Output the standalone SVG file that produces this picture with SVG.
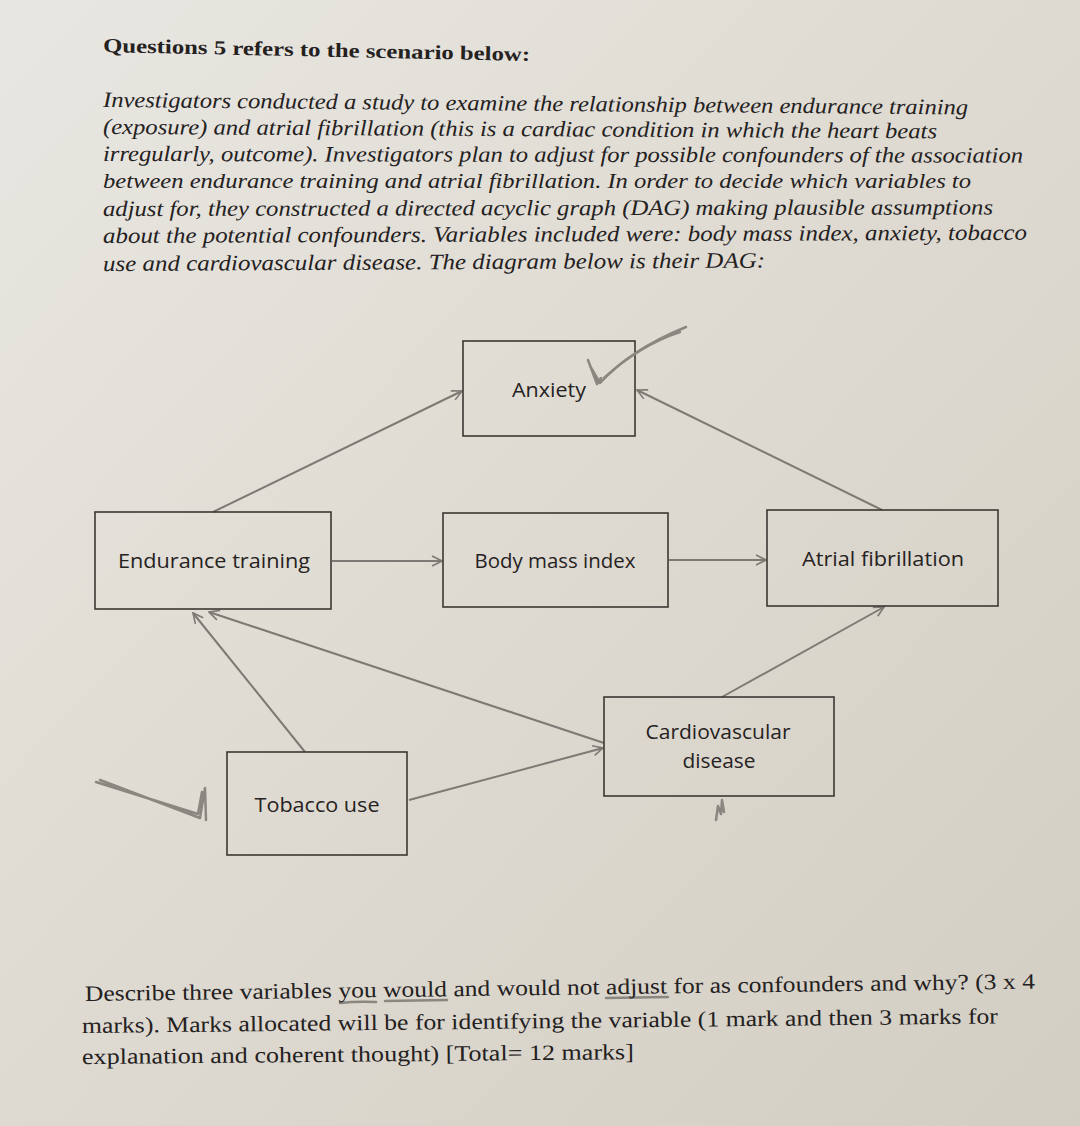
<svg xmlns="http://www.w3.org/2000/svg" width="1080" height="1126" viewBox="0 0 1080 1126">
<defs>
<linearGradient id="paper" x1="0" y1="0" x2="1" y2="1">
<stop offset="0" stop-color="#e9e7e2"/>
<stop offset="0.5" stop-color="#dedad1"/>
<stop offset="1" stop-color="#d3cec3"/>
</linearGradient>
<marker id="arr" viewBox="0 0 12 12" refX="11" refY="6" markerWidth="12" markerHeight="12" markerUnits="userSpaceOnUse" orient="auto">
<path d="M1,1 L11,6 L1,11" fill="none" stroke="#7d7974" stroke-width="1.6"/>
</marker>
<style>
.q{font-family:"Liberation Serif","Times New Roman",serif;fill:#24211e}
.t{font-size:22px;font-style:italic}
.b{font-size:22px}
.n rect{fill:none;stroke:#3b3733;stroke-width:1.6}
.n text{font-family:"Open Sans","Noto Sans",sans-serif;font-size:20px;fill:#26221f;text-anchor:middle}
.e line{stroke:#7d7974;stroke-width:2;marker-end:url(#arr)}
.p{fill:none;stroke:#8a8680;stroke-width:2.5;stroke-linecap:round;stroke-linejoin:round}
</style>
</defs>
<rect width="1080" height="1126" fill="url(#paper)"/>

<g id="header">
<text class="q" x="103" y="52" font-size="20" font-weight="bold" textLength="427" lengthAdjust="spacingAndGlyphs" transform="rotate(1.2 103 52)">Questions 5 refers to the scenario below:</text>
<g class="q t">
<text x="103" y="107" textLength="865" lengthAdjust="spacingAndGlyphs" transform="rotate(0.5 103 107)">Investigators conducted a study to examine the relationship between endurance training</text>
<text x="103" y="134" textLength="834" lengthAdjust="spacingAndGlyphs" transform="rotate(0.3 103 134)">(exposure) and atrial fibrillation (this is a cardiac condition in which the heart beats</text>
<text x="103" y="161" textLength="920" lengthAdjust="spacingAndGlyphs" transform="rotate(0.1 103 161)">irregularly, outcome). Investigators plan to adjust for possible confounders of the association</text>
<text x="103" y="188" textLength="868" lengthAdjust="spacingAndGlyphs">between endurance training and atrial fibrillation. In order to decide which variables to</text>
<text x="103" y="216" textLength="890" lengthAdjust="spacingAndGlyphs" transform="rotate(-0.1 103 216)">adjust for, they constructed a directed acyclic graph (DAG) making plausible assumptions</text>
<text x="103" y="243" textLength="924" lengthAdjust="spacingAndGlyphs" transform="rotate(-0.2 103 243)">about the potential confounders. Variables included were:  body mass index, anxiety, tobacco</text>
<text x="103" y="271" textLength="662" lengthAdjust="spacingAndGlyphs" transform="rotate(-0.3 103 271)">use and cardiovascular disease. The diagram below is their DAG:</text>
</g>
</g>

<g id="connectors" class="e">
<line x1="213" y1="512" x2="462" y2="391"/>
<line x1="882" y1="510" x2="637" y2="390"/>
<line x1="332" y1="561" x2="442" y2="561"/>
<line x1="669" y1="560" x2="766" y2="560"/>
<line x1="604" y1="743" x2="209" y2="612"/>
<line x1="305" y1="752" x2="193" y2="613"/>
<line x1="409" y1="800" x2="603" y2="748"/>
<line x1="722" y1="697" x2="884" y2="607"/>
</g>

<g id="anxiety" class="n"><rect x="463" y="341" width="172" height="95"/><text x="549" y="397" textLength="74" lengthAdjust="spacingAndGlyphs">Anxiety</text></g>
<g id="endurance" class="n"><rect x="95" y="512" width="236" height="97"/><text x="214" y="568" textLength="192" lengthAdjust="spacingAndGlyphs">Endurance training</text></g>
<g id="bmi" class="n"><rect x="443" y="513" width="225" height="94"/><text x="555" y="568" textLength="161" lengthAdjust="spacingAndGlyphs">Body mass index</text></g>
<g id="af" class="n"><rect x="767" y="510" width="231" height="96"/><text x="883" y="566" textLength="162" lengthAdjust="spacingAndGlyphs">Atrial fibrillation</text></g>
<g id="cvd" class="n"><rect x="604" y="697" width="230" height="99"/><text x="718" y="739" textLength="145" lengthAdjust="spacingAndGlyphs">Cardiovascular</text><text x="719" y="768" textLength="73" lengthAdjust="spacingAndGlyphs">disease</text></g>
<g id="tobacco" class="n"><rect x="227" y="752" width="180" height="103"/><text x="317" y="812" textLength="125" lengthAdjust="spacingAndGlyphs">Tobacco use</text></g>

<g id="pencil">
<path class="p" d="M588,360 L597,384 L601,378 M590,366 L600,383 Q630,350 686,327 M604,378 Q640,345 680,332"/>
<path class="p" d="M96,782 L198,814 L202,792 M100,780 L200,818 L205,788 L206,820"/>
<path class="p" d="M716,820 L718,806 L721,814 L722,800 L724,812" stroke-width="2"/>
<path class="p" d="M385,1001 L447,1000 M606,998 L668,997 M340,1003 Q357,1001 376,1002" stroke-width="1.5"/>
</g>

<g id="footer" class="q b">
<text x="85" y="1001" textLength="950" lengthAdjust="spacingAndGlyphs" transform="rotate(-0.75 85 1001)">Describe three variables you would and would not adjust for as confounders and why? (3 x 4</text>
<text x="82" y="1033" textLength="916" lengthAdjust="spacingAndGlyphs" transform="rotate(-0.6 82 1033)">marks). Marks allocated will be for identifying the variable (1 mark and then 3 marks for</text>
<text x="82" y="1064" textLength="552" lengthAdjust="spacingAndGlyphs" transform="rotate(-0.5 82 1064)">explanation and coherent thought) [Total= 12 marks]</text>
</g>
</svg>
